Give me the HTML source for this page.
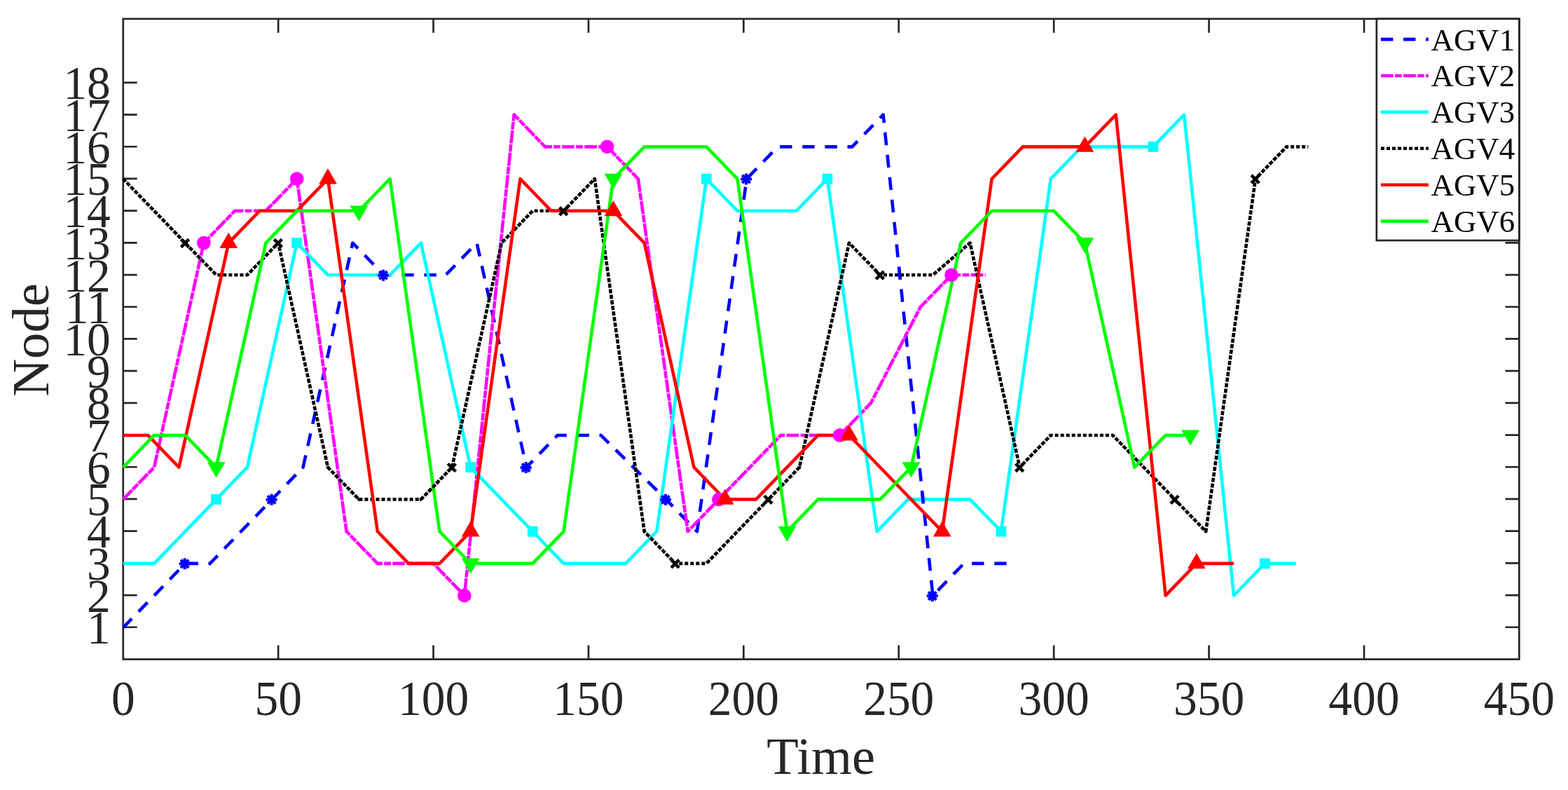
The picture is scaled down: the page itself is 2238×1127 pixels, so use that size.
<!DOCTYPE html>
<html lang="en"><head><meta charset="utf-8"><title>AGV node-time chart</title>
<style>
html,body{margin:0;padding:0;background:#fff;}
body{width:2238px;height:1127px;overflow:hidden;}
svg{display:block;}
text{font-family:"Liberation Serif","Times New Roman",serif;}
.xt{font-size:69.6px;fill:#262626;}
.yt{font-size:67.4px;fill:#262626;}
.lab{font-size:74.6px;fill:#262626;}
.leg{font-size:44.8px;fill:#000;}
.ln{fill:none;stroke-width:4.6;stroke-linejoin:round;stroke-linecap:butt;}
</style></head><body>
<svg xmlns="http://www.w3.org/2000/svg" width="2238" height="1127" viewBox="0 0 2238 1127">
<rect x="0" y="0" width="2238" height="1127" fill="#fff"/>
<defs>
<clipPath id="cp0"><rect x="1275.23" y="383.28" width="18" height="18"/></clipPath>
<clipPath id="cp1"><rect x="1308.29" y="703.42" width="18" height="18"/></clipPath>
<clipPath id="cp2"><rect x="609.41" y="685.28" width="18" height="18"/></clipPath>
</defs>
<g stroke="#262626" stroke-width="2.7" fill="none" stroke-linecap="butt">
<rect x="175.75" y="26.9" width="1992.6" height="913.6"/>
<path d="M397.15 940.5v-19.9M397.15 26.9v19.9M618.55 940.5v-19.9M618.55 26.9v19.9M839.95 940.5v-19.9M839.95 26.9v19.9M1061.35 940.5v-19.9M1061.35 26.9v19.9M1282.75 940.5v-19.9M1282.75 26.9v19.9M1504.15 940.5v-19.9M1504.15 26.9v19.9M1725.55 940.5v-19.9M1725.55 26.9v19.9M1946.95 940.5v-19.9M1946.95 26.9v19.9M175.75 894.75h19.9M2168.35 894.75h-19.9M175.75 849.05h19.9M2168.35 849.05h-19.9M175.75 803.35h19.9M2168.35 803.35h-19.9M175.75 757.65h19.9M2168.35 757.65h-19.9M175.75 711.95h19.9M2168.35 711.95h-19.9M175.75 666.25h19.9M2168.35 666.25h-19.9M175.75 620.55h19.9M2168.35 620.55h-19.9M175.75 574.85h19.9M2168.35 574.85h-19.9M175.75 529.15h19.9M2168.35 529.15h-19.9M175.75 483.45h19.9M2168.35 483.45h-19.9M175.75 437.75h19.9M2168.35 437.75h-19.9M175.75 392.05h19.9M2168.35 392.05h-19.9M175.75 346.35h19.9M2168.35 346.35h-19.9M175.75 300.65h19.9M2168.35 300.65h-19.9M175.75 254.95h19.9M2168.35 254.95h-19.9M175.75 209.25h19.9M2168.35 209.25h-19.9M175.75 163.55h19.9M2168.35 163.55h-19.9M175.75 117.85h19.9M2168.35 117.85h-19.9"/>
</g>
<g class="ln">
<g id="l1">
<line x1="175.75" y1="895.37" x2="264.31" y2="803.89" stroke="#0000ff" stroke-dasharray="18.4 13.72" stroke-dashoffset="0.5"/>
<line x1="264.31" y1="803.89" x2="299.73" y2="803.89" stroke="#0000ff" stroke-dasharray="17.4 14.72" stroke-dashoffset="30.96"/>
<circle cx="299.73" cy="803.89" r="2.3" fill="#0000ff" stroke="none"/>
<line x1="299.73" y1="803.89" x2="388.29" y2="712.42" stroke="#0000ff" stroke-dasharray="18.4 13.72" stroke-dashoffset="2.64"/>
<circle cx="388.29" cy="712.42" r="2.3" fill="#0000ff" stroke="none"/>
<line x1="388.29" y1="712.42" x2="432.57" y2="666.69" stroke="#0000ff" stroke-dasharray="18.4 13.72" stroke-dashoffset="1.48"/>
<circle cx="432.57" cy="666.69" r="2.3" fill="#0000ff" stroke="none"/>
<line x1="432.57" y1="666.69" x2="503.42" y2="346.55" stroke="#0000ff" stroke-dasharray="18.4 13.72" stroke-dashoffset="0.9"/>
<circle cx="503.42" cy="346.55" r="2.3" fill="#0000ff" stroke="none"/>
<line x1="503.42" y1="346.55" x2="547.7" y2="392.28" stroke="#0000ff" stroke-dasharray="18.4 13.72" stroke-dashoffset="7.59"/>
<circle cx="547.7" cy="392.28" r="2.3" fill="#0000ff" stroke="none"/>
<line x1="547.7" y1="392.28" x2="636.26" y2="392.28" stroke="#0000ff" stroke-dasharray="17.4 14.72" stroke-dashoffset="6.51"/>
<line x1="636.26" y1="392.28" x2="680.54" y2="346.55" stroke="#0000ff" stroke-dasharray="18.4 13.72" stroke-dashoffset="31.33"/>
<line x1="680.54" y1="346.55" x2="751.39" y2="666.69" stroke="#0000ff" stroke-dasharray="18.4 13.72" stroke-dashoffset="30.74"/>
<circle cx="751.39" cy="666.69" r="2.3" fill="#0000ff" stroke="none"/>
<line x1="751.39" y1="666.69" x2="795.67" y2="620.96" stroke="#0000ff" stroke-dasharray="18.4 13.72" stroke-dashoffset="5.31"/>
<circle cx="795.67" cy="620.96" r="2.3" fill="#0000ff" stroke="none"/>
<line x1="795.67" y1="620.96" x2="857.66" y2="620.96" stroke="#0000ff" stroke-dasharray="17.4 14.72" stroke-dashoffset="4.23"/>
<circle cx="857.66" cy="620.96" r="2.3" fill="#0000ff" stroke="none"/>
<line x1="857.66" y1="620.96" x2="950.65" y2="712.42" stroke="#0000ff" stroke-dasharray="18.4 13.72" stroke-dashoffset="2.49"/>
<circle cx="950.65" cy="712.42" r="2.3" fill="#0000ff" stroke="none"/>
<line x1="950.65" y1="712.42" x2="994.93" y2="758.16" stroke="#0000ff" stroke-dasharray="18.4 13.72" stroke-dashoffset="4.44"/>
<circle cx="994.93" cy="758.16" r="2.3" fill="#0000ff" stroke="none"/>
<line x1="994.93" y1="758.16" x2="1065.78" y2="255.08" stroke="#0000ff" stroke-dasharray="18.4 13.72" stroke-dashoffset="3.86"/>
<line x1="1065.78" y1="255.08" x2="1110.06" y2="209.34" stroke="#0000ff" stroke-dasharray="18.4 13.72" stroke-dashoffset="30.11"/>
<line x1="1110.06" y1="209.34" x2="1216.33" y2="209.34" stroke="#0000ff" stroke-dasharray="17.4 14.72" stroke-dashoffset="29.03"/>
<circle cx="1216.33" cy="209.34" r="2.3" fill="#0000ff" stroke="none"/>
<line x1="1216.33" y1="209.34" x2="1260.61" y2="163.61" stroke="#0000ff" stroke-dasharray="18.4 13.72" stroke-dashoffset="7.32"/>
<circle cx="1260.61" cy="163.61" r="2.3" fill="#0000ff" stroke="none"/>
<line x1="1260.61" y1="163.61" x2="1331.46" y2="849.63" stroke="#0000ff" stroke-dasharray="18.4 13.72" stroke-dashoffset="6.74"/>
<line x1="1331.46" y1="849.63" x2="1375.74" y2="803.89" stroke="#0000ff" stroke-dasharray="18.4 13.72" stroke-dashoffset="21.89"/>
<line x1="1375.74" y1="803.89" x2="1437.73" y2="803.89" stroke="#0000ff" stroke-dasharray="17.4 14.72" stroke-dashoffset="20.81"/>
</g>
<g id="l2">
<line x1="175.75" y1="712.42" x2="220.03" y2="666.69" stroke="#ff00ff" stroke-dasharray="18.8 1.26 10.8 1.26" stroke-dashoffset="0.5"/>
<line x1="220.03" y1="666.69" x2="290.88" y2="346.55" stroke="#ff00ff" stroke-dasharray="18.8 1.26 10.8 1.26" stroke-dashoffset="32.04"/>
<circle cx="290.88" cy="346.55" r="2.3" fill="#ff00ff" stroke="none"/>
<line x1="290.88" y1="346.55" x2="335.16" y2="300.81" stroke="#ff00ff" stroke-dasharray="18.8 1.26 10.8 1.26" stroke-dashoffset="6.61"/>
<circle cx="335.16" cy="300.81" r="2.3" fill="#ff00ff" stroke="none"/>
<line x1="335.16" y1="300.81" x2="379.44" y2="300.81" stroke="#ff00ff" stroke-dasharray="17.8 2.26 9.8 2.26" stroke-dashoffset="5.53"/>
<circle cx="379.44" cy="300.81" r="2.3" fill="#ff00ff" stroke="none"/>
<line x1="379.44" y1="300.81" x2="423.72" y2="255.08" stroke="#ff00ff" stroke-dasharray="18.8 1.26 10.8 1.26" stroke-dashoffset="18.19"/>
<circle cx="423.72" cy="255.08" r="2.3" fill="#ff00ff" stroke="none"/>
<line x1="423.72" y1="255.08" x2="494.57" y2="758.16" stroke="#ff00ff" stroke-dasharray="18.8 1.26 10.8 1.26" stroke-dashoffset="17.61"/>
<circle cx="494.57" cy="758.16" r="2.3" fill="#ff00ff" stroke="none"/>
<line x1="494.57" y1="758.16" x2="538.85" y2="803.89" stroke="#ff00ff" stroke-dasharray="18.8 1.26 10.8 1.26" stroke-dashoffset="11.74"/>
<circle cx="538.85" cy="803.89" r="2.3" fill="#ff00ff" stroke="none"/>
<line x1="538.85" y1="803.89" x2="618.55" y2="803.89" stroke="#ff00ff" stroke-dasharray="17.8 2.26 9.8 2.26" stroke-dashoffset="10.65"/>
<circle cx="618.55" cy="803.89" r="2.3" fill="#ff00ff" stroke="none"/>
<line x1="618.55" y1="803.89" x2="662.83" y2="849.63" stroke="#ff00ff" stroke-dasharray="18.8 1.26 10.8 1.26" stroke-dashoffset="26.62"/>
<circle cx="662.83" cy="849.63" r="2.3" fill="#ff00ff" stroke="none"/>
<line x1="662.83" y1="849.63" x2="733.68" y2="163.61" stroke="#ff00ff" stroke-dasharray="18.8 1.26 10.8 1.26" stroke-dashoffset="26.04"/>
<circle cx="733.68" cy="163.61" r="2.3" fill="#ff00ff" stroke="none"/>
<line x1="733.68" y1="163.61" x2="777.96" y2="209.34" stroke="#ff00ff" stroke-dasharray="18.8 1.26 10.8 1.26" stroke-dashoffset="9.07"/>
<circle cx="777.96" cy="209.34" r="2.3" fill="#ff00ff" stroke="none"/>
<line x1="777.96" y1="209.34" x2="866.52" y2="209.34" stroke="#ff00ff" stroke-dasharray="17.8 2.26 9.8 2.26" stroke-dashoffset="7.99"/>
<circle cx="866.52" cy="209.34" r="2.3" fill="#ff00ff" stroke="none"/>
<line x1="866.52" y1="209.34" x2="910.8" y2="255.08" stroke="#ff00ff" stroke-dasharray="18.8 1.26 10.8 1.26" stroke-dashoffset="0.69"/>
<circle cx="910.8" cy="255.08" r="2.3" fill="#ff00ff" stroke="none"/>
<line x1="910.8" y1="255.08" x2="981.65" y2="758.16" stroke="#ff00ff" stroke-dasharray="18.8 1.26 10.8 1.26" stroke-dashoffset="0.11"/>
<circle cx="981.65" cy="758.16" r="2.3" fill="#ff00ff" stroke="none"/>
<line x1="981.65" y1="758.16" x2="1025.93" y2="712.42" stroke="#ff00ff" stroke-dasharray="18.8 1.26 10.8 1.26" stroke-dashoffset="26.36"/>
<circle cx="1025.93" cy="712.42" r="2.3" fill="#ff00ff" stroke="none"/>
<line x1="1025.93" y1="712.42" x2="1114.49" y2="620.96" stroke="#ff00ff" stroke-dasharray="18.8 1.26 10.8 1.26" stroke-dashoffset="25.77"/>
<circle cx="1114.49" cy="620.96" r="2.3" fill="#ff00ff" stroke="none"/>
<line x1="1114.49" y1="620.96" x2="1198.62" y2="620.96" stroke="#ff00ff" stroke-dasharray="17.8 2.26 9.8 2.26" stroke-dashoffset="24.11"/>
<circle cx="1198.62" cy="620.96" r="2.3" fill="#ff00ff" stroke="none"/>
<line x1="1198.62" y1="620.96" x2="1242.9" y2="575.22" stroke="#ff00ff" stroke-dasharray="18.8 1.26 10.8 1.26" stroke-dashoffset="12.38"/>
<circle cx="1242.9" cy="575.22" r="2.3" fill="#ff00ff" stroke="none"/>
<line x1="1242.9" y1="575.22" x2="1313.75" y2="438.02" stroke="#ff00ff" stroke-dasharray="18.8 1.26 10.8 1.26" stroke-dashoffset="11.8"/>
<circle cx="1313.75" cy="438.02" r="2.3" fill="#ff00ff" stroke="none"/>
<line x1="1313.75" y1="438.02" x2="1358.03" y2="392.28" stroke="#ff00ff" stroke-dasharray="18.8 1.26 10.8 1.26" stroke-dashoffset="5.62"/>
<circle cx="1358.03" cy="392.28" r="2.3" fill="#ff00ff" stroke="none"/>
<line x1="1358.03" y1="392.28" x2="1406.73" y2="392.28" stroke="#ff00ff" stroke-dasharray="17.8 2.26 9.8 2.26" stroke-dashoffset="4.54"/>
</g>
<g id="l3">
<polyline points="175.75,803.89 220.03,803.89 308.59,712.42 352.87,666.69 423.72,346.55 468,392.28 556.56,392.28 600.84,346.55 671.69,666.69 760.25,758.16 804.53,803.89 893.09,803.89 937.37,758.16 1008.21,255.08 1052.49,300.81 1136.63,300.81 1180.91,255.08 1251.75,758.16 1296.03,712.42 1384.59,712.42 1428.87,758.16 1499.72,255.08 1544,209.34 1645.85,209.34 1690.13,163.61 1760.97,849.63 1805.25,803.89 1849.53,803.89" stroke="#00ffff"/>
</g>
<g id="l4">
<line x1="175.75" y1="255.08" x2="264.31" y2="346.55" stroke="#000000" stroke-dasharray="6 2.03" stroke-dashoffset="0.5"/>
<line x1="264.31" y1="346.55" x2="308.59" y2="392.28" stroke="#000000" stroke-dasharray="6 2.03" stroke-dashoffset="7.37"/>
<line x1="308.59" y1="392.28" x2="352.87" y2="392.28" stroke="#000000" stroke-dasharray="5 3.03" stroke-dashoffset="6.29"/>
<circle cx="352.87" cy="392.28" r="2.3" fill="#000000" stroke="none"/>
<line x1="352.87" y1="392.28" x2="397.15" y2="346.55" stroke="#000000" stroke-dasharray="6 2.03" stroke-dashoffset="2.89"/>
<circle cx="397.15" cy="346.55" r="2.3" fill="#000000" stroke="none"/>
<line x1="397.15" y1="346.55" x2="468" y2="666.69" stroke="#000000" stroke-dasharray="6 2.03" stroke-dashoffset="2.3"/>
<circle cx="468" cy="666.69" r="2.3" fill="#000000" stroke="none"/>
<line x1="468" y1="666.69" x2="512.28" y2="712.42" stroke="#000000" stroke-dasharray="6 2.03" stroke-dashoffset="0.96"/>
<circle cx="512.28" cy="712.42" r="2.3" fill="#000000" stroke="none"/>
<line x1="512.28" y1="712.42" x2="600.84" y2="712.42" stroke="#000000" stroke-dasharray="5 3.03" stroke-dashoffset="7.91"/>
<circle cx="600.84" cy="712.42" r="2.3" fill="#000000" stroke="none"/>
<line x1="600.84" y1="712.42" x2="645.12" y2="666.69" stroke="#000000" stroke-dasharray="6 2.03" stroke-dashoffset="0.61"/>
<circle cx="645.12" cy="666.69" r="2.3" fill="#000000" stroke="none"/>
<line x1="645.12" y1="666.69" x2="715.97" y2="346.55" stroke="#000000" stroke-dasharray="6 2.03" stroke-dashoffset="0.03"/>
<line x1="715.97" y1="346.55" x2="760.25" y2="300.81" stroke="#000000" stroke-dasharray="6 2.03" stroke-dashoffset="6.72"/>
<line x1="760.25" y1="300.81" x2="804.53" y2="300.81" stroke="#000000" stroke-dasharray="5 3.03" stroke-dashoffset="5.64"/>
<circle cx="804.53" cy="300.81" r="2.3" fill="#000000" stroke="none"/>
<line x1="804.53" y1="300.81" x2="848.81" y2="255.08" stroke="#000000" stroke-dasharray="6 2.03" stroke-dashoffset="2.24"/>
<circle cx="848.81" cy="255.08" r="2.3" fill="#000000" stroke="none"/>
<line x1="848.81" y1="255.08" x2="919.65" y2="758.16" stroke="#000000" stroke-dasharray="6 2.03" stroke-dashoffset="1.66"/>
<circle cx="919.65" cy="758.16" r="2.3" fill="#000000" stroke="none"/>
<line x1="919.65" y1="758.16" x2="963.93" y2="803.89" stroke="#000000" stroke-dasharray="6 2.03" stroke-dashoffset="3.82"/>
<circle cx="963.93" cy="803.89" r="2.3" fill="#000000" stroke="none"/>
<line x1="963.93" y1="803.89" x2="1008.21" y2="803.89" stroke="#000000" stroke-dasharray="5 3.03" stroke-dashoffset="2.74"/>
<line x1="1008.21" y1="803.89" x2="1096.77" y2="712.42" stroke="#000000" stroke-dasharray="6 2.03" stroke-dashoffset="7.37"/>
<line x1="1096.77" y1="712.42" x2="1141.05" y2="666.69" stroke="#000000" stroke-dasharray="6 2.03" stroke-dashoffset="6.2"/>
<circle cx="1141.05" cy="666.69" r="2.3" fill="#000000" stroke="none"/>
<line x1="1141.05" y1="666.69" x2="1211.9" y2="346.55" stroke="#000000" stroke-dasharray="6 2.03" stroke-dashoffset="5.62"/>
<circle cx="1211.9" cy="346.55" r="2.3" fill="#000000" stroke="none"/>
<line x1="1211.9" y1="346.55" x2="1256.18" y2="392.28" stroke="#000000" stroke-dasharray="6 2.03" stroke-dashoffset="4.28"/>
<circle cx="1256.18" cy="392.28" r="2.3" fill="#000000" stroke="none"/>
<line x1="1256.18" y1="392.28" x2="1331.46" y2="392.28" stroke="#000000" stroke-dasharray="5 3.03" stroke-dashoffset="3.2"/>
<line x1="1331.46" y1="392.28" x2="1384.59" y2="346.55" stroke="#000000" stroke-dasharray="6 2.03" stroke-dashoffset="6.71"/>
<circle cx="1384.59" cy="346.55" r="2.3" fill="#000000" stroke="none"/>
<line x1="1384.59" y1="346.55" x2="1455.44" y2="666.69" stroke="#000000" stroke-dasharray="6 2.03" stroke-dashoffset="4.55"/>
<circle cx="1455.44" cy="666.69" r="2.3" fill="#000000" stroke="none"/>
<line x1="1455.44" y1="666.69" x2="1499.72" y2="620.96" stroke="#000000" stroke-dasharray="6 2.03" stroke-dashoffset="3.21"/>
<circle cx="1499.72" cy="620.96" r="2.3" fill="#000000" stroke="none"/>
<line x1="1499.72" y1="620.96" x2="1588.28" y2="620.96" stroke="#000000" stroke-dasharray="5 3.03" stroke-dashoffset="2.13"/>
<circle cx="1588.28" cy="620.96" r="2.3" fill="#000000" stroke="none"/>
<line x1="1588.28" y1="620.96" x2="1676.84" y2="712.42" stroke="#000000" stroke-dasharray="6 2.03" stroke-dashoffset="2.86"/>
<circle cx="1676.84" cy="712.42" r="2.3" fill="#000000" stroke="none"/>
<line x1="1676.84" y1="712.42" x2="1721.12" y2="758.16" stroke="#000000" stroke-dasharray="6 2.03" stroke-dashoffset="1.69"/>
<circle cx="1721.12" cy="758.16" r="2.3" fill="#000000" stroke="none"/>
<line x1="1721.12" y1="758.16" x2="1791.97" y2="255.08" stroke="#000000" stroke-dasharray="6 2.03" stroke-dashoffset="1.11"/>
<circle cx="1791.97" cy="255.08" r="2.3" fill="#000000" stroke="none"/>
<line x1="1791.97" y1="255.08" x2="1836.25" y2="209.34" stroke="#000000" stroke-dasharray="6 2.03" stroke-dashoffset="3.27"/>
<circle cx="1836.25" cy="209.34" r="2.3" fill="#000000" stroke="none"/>
<line x1="1836.25" y1="209.34" x2="1867.25" y2="209.34" stroke="#000000" stroke-dasharray="5 3.03" stroke-dashoffset="2.19"/>
</g>
<g id="l5">
<polyline points="175.75,620.96 211.17,620.96 255.45,666.69 326.3,346.55 370.58,300.81 423.72,300.81 468,255.08 538.85,758.16 583.13,803.89 627.41,803.89 671.69,758.16 742.53,255.08 786.81,300.81 875.37,300.81 919.65,346.55 990.5,666.69 1034.78,712.42 1079.06,712.42 1167.62,620.96 1211.9,620.96 1344.74,758.16 1415.59,255.08 1459.87,209.34 1548.43,209.34 1592.71,163.61 1663.56,849.63 1707.84,803.89 1760.97,803.89" stroke="#ff0000"/>
</g>
<g id="l6">
<polyline points="175.75,666.69 220.03,620.96 264.31,620.96 308.59,666.69 379.44,346.55 423.72,300.81 512.28,300.81 556.56,255.08 627.41,758.16 671.69,803.89 760.25,803.89 804.53,758.16 875.37,255.08 919.65,209.34 1008.21,209.34 1052.49,255.08 1123.34,758.16 1167.62,712.42 1256.18,712.42 1300.46,666.69 1371.31,346.55 1415.59,300.81 1504.15,300.81 1548.43,346.55 1619.28,666.69 1663.56,620.96 1698.98,620.96" stroke="#00ff00"/>
</g>
<use href="#l1" clip-path="url(#cp0)"/>
<use href="#l1" clip-path="url(#cp1)"/>
<use href="#l4" clip-path="url(#cp2)"/>
</g>
<g>
<path d="M255.61 804.29H271.61M263.61 796.29V812.29M257.95 798.64L269.27 809.95M257.95 809.95L269.27 798.64" stroke="#0000ff" stroke-width="4.1" fill="none"/>
<path d="M379.59 712.82H395.59M387.59 704.82V720.82M381.94 707.17L393.25 718.48M381.94 718.48L393.25 707.17" stroke="#0000ff" stroke-width="4.1" fill="none"/>
<path d="M539 392.68H555M547 384.68V400.68M541.35 387.02L552.66 398.34M541.35 398.34L552.66 387.02" stroke="#0000ff" stroke-width="4.1" fill="none"/>
<path d="M742.69 667.09H758.69M750.69 659.09V675.09M745.03 661.43L756.35 672.75M745.03 672.75L756.35 661.43" stroke="#0000ff" stroke-width="4.1" fill="none"/>
<path d="M941.95 712.82H957.95M949.95 704.82V720.82M944.29 707.17L955.61 718.48M944.29 718.48L955.61 707.17" stroke="#0000ff" stroke-width="4.1" fill="none"/>
<path d="M1057.08 255.48H1073.08M1065.08 247.48V263.48M1059.42 249.82L1070.73 261.13M1059.42 261.13L1070.73 249.82" stroke="#0000ff" stroke-width="4.1" fill="none"/>
<path d="M1322.76 850.03H1338.76M1330.76 842.03V858.03M1325.1 844.37L1336.41 855.69M1325.1 855.69L1336.41 844.37" stroke="#0000ff" stroke-width="4.1" fill="none"/>
<circle cx="290.88" cy="346.55" r="9.85" fill="#ff00ff"/>
<circle cx="423.72" cy="255.08" r="9.85" fill="#ff00ff"/>
<circle cx="662.83" cy="849.63" r="9.85" fill="#ff00ff"/>
<circle cx="866.52" cy="209.34" r="9.85" fill="#ff00ff"/>
<circle cx="1025.93" cy="712.42" r="9.85" fill="#ff00ff"/>
<circle cx="1198.62" cy="620.96" r="9.85" fill="#ff00ff"/>
<circle cx="1358.03" cy="392.28" r="9.85" fill="#ff00ff"/>
<rect x="301.19" y="705.02" width="14.8" height="14.8" fill="#00ffff"/>
<rect x="416.32" y="339.15" width="14.8" height="14.8" fill="#00ffff"/>
<rect x="664.29" y="659.29" width="14.8" height="14.8" fill="#00ffff"/>
<rect x="752.85" y="750.76" width="14.8" height="14.8" fill="#00ffff"/>
<rect x="1000.81" y="247.68" width="14.8" height="14.8" fill="#00ffff"/>
<rect x="1173.51" y="247.68" width="14.8" height="14.8" fill="#00ffff"/>
<rect x="1421.47" y="750.76" width="14.8" height="14.8" fill="#00ffff"/>
<rect x="1638.45" y="201.94" width="14.8" height="14.8" fill="#00ffff"/>
<rect x="1797.85" y="796.5" width="14.8" height="14.8" fill="#00ffff"/>
<path d="M258.41 341.35L269.61 352.55M258.41 352.55L269.61 341.35" stroke="#000000" stroke-width="4.5" fill="none"/>
<path d="M391.25 341.35L402.45 352.55M391.25 352.55L402.45 341.35" stroke="#000000" stroke-width="4.5" fill="none"/>
<path d="M639.22 661.49L650.42 672.69M639.22 672.69L650.42 661.49" stroke="#000000" stroke-width="4.5" fill="none"/>
<path d="M798.63 295.61L809.83 306.81M798.63 306.81L809.83 295.61" stroke="#000000" stroke-width="4.5" fill="none"/>
<path d="M958.03 798.69L969.23 809.89M958.03 809.89L969.23 798.69" stroke="#000000" stroke-width="4.5" fill="none"/>
<path d="M1090.87 707.22L1102.07 718.42M1090.87 718.42L1102.07 707.22" stroke="#000000" stroke-width="4.5" fill="none"/>
<path d="M1250.28 387.08L1261.48 398.28M1250.28 398.28L1261.48 387.08" stroke="#000000" stroke-width="4.5" fill="none"/>
<path d="M1449.54 661.49L1460.74 672.69M1449.54 672.69L1460.74 661.49" stroke="#000000" stroke-width="4.5" fill="none"/>
<path d="M1670.94 707.22L1682.14 718.42M1670.94 718.42L1682.14 707.22" stroke="#000000" stroke-width="4.5" fill="none"/>
<path d="M1786.07 249.88L1797.27 261.08M1786.07 261.08L1797.27 249.88" stroke="#000000" stroke-width="4.5" fill="none"/>
<polygon points="326.3,331.68 339.2,353.98 313.4,353.98" fill="#ff0000"/>
<polygon points="468,240.21 480.9,262.51 455.1,262.51" fill="#ff0000"/>
<polygon points="671.69,743.29 684.59,765.59 658.79,765.59" fill="#ff0000"/>
<polygon points="875.37,285.94 888.27,308.24 862.47,308.24" fill="#ff0000"/>
<polygon points="1034.78,697.56 1047.68,719.86 1021.88,719.86" fill="#ff0000"/>
<polygon points="1211.9,606.09 1224.8,628.39 1199,628.39" fill="#ff0000"/>
<polygon points="1344.74,743.29 1357.64,765.59 1331.84,765.59" fill="#ff0000"/>
<polygon points="1548.43,194.47 1561.33,216.77 1535.53,216.77" fill="#ff0000"/>
<polygon points="1707.84,789.03 1720.74,811.33 1694.94,811.33" fill="#ff0000"/>
<polygon points="308.59,681.56 321.49,659.26 295.69,659.26" fill="#00ff00"/>
<polygon points="512.28,315.68 525.18,293.38 499.38,293.38" fill="#00ff00"/>
<polygon points="671.69,818.76 684.59,796.46 658.79,796.46" fill="#00ff00"/>
<polygon points="875.37,269.94 888.27,247.64 862.47,247.64" fill="#00ff00"/>
<polygon points="1123.34,773.03 1136.24,750.73 1110.44,750.73" fill="#00ff00"/>
<polygon points="1300.46,681.56 1313.36,659.26 1287.56,659.26" fill="#00ff00"/>
<polygon points="1548.43,361.41 1561.33,339.11 1535.53,339.11" fill="#00ff00"/>
<polygon points="1698.98,635.82 1711.88,613.52 1686.08,613.52" fill="#00ff00"/>
</g>
<g>
<text class="xt" text-anchor="middle" transform="translate(175.75 1020.4) scale(0.969 1)">0</text>
<text class="xt" text-anchor="middle" transform="translate(397.15 1020.4) scale(0.969 1)">50</text>
<text class="xt" text-anchor="middle" transform="translate(618.55 1020.4) scale(0.969 1)">100</text>
<text class="xt" text-anchor="middle" transform="translate(839.95 1020.4) scale(0.969 1)">150</text>
<text class="xt" text-anchor="middle" transform="translate(1061.35 1020.4) scale(0.969 1)">200</text>
<text class="xt" text-anchor="middle" transform="translate(1282.75 1020.4) scale(0.969 1)">250</text>
<text class="xt" text-anchor="middle" transform="translate(1504.15 1020.4) scale(0.969 1)">300</text>
<text class="xt" text-anchor="middle" transform="translate(1725.55 1020.4) scale(0.969 1)">350</text>
<text class="xt" text-anchor="middle" transform="translate(1946.95 1020.4) scale(0.969 1)">400</text>
<text class="xt" text-anchor="middle" transform="translate(2168.35 1020.4) scale(0.969 1)">450</text>
<text class="yt" text-anchor="end" transform="translate(157.8 918.25)">1</text>
<text class="yt" text-anchor="end" transform="translate(157.8 872.55)">2</text>
<text class="yt" text-anchor="end" transform="translate(157.8 826.85)">3</text>
<text class="yt" text-anchor="end" transform="translate(157.8 781.15)">4</text>
<text class="yt" text-anchor="end" transform="translate(157.8 735.45)">5</text>
<text class="yt" text-anchor="end" transform="translate(157.8 689.75)">6</text>
<text class="yt" text-anchor="end" transform="translate(157.8 644.05)">7</text>
<text class="yt" text-anchor="end" transform="translate(157.8 598.35)">8</text>
<text class="yt" text-anchor="end" transform="translate(157.8 552.65)">9</text>
<text class="yt" text-anchor="end" transform="translate(157.8 506.95)">10</text>
<text class="yt" text-anchor="end" transform="translate(157.8 461.25)">11</text>
<text class="yt" text-anchor="end" transform="translate(157.8 415.55)">12</text>
<text class="yt" text-anchor="end" transform="translate(157.8 369.85)">13</text>
<text class="yt" text-anchor="end" transform="translate(157.8 324.15)">14</text>
<text class="yt" text-anchor="end" transform="translate(157.8 278.45)">15</text>
<text class="yt" text-anchor="end" transform="translate(157.8 232.75)">16</text>
<text class="yt" text-anchor="end" transform="translate(157.8 187.05)">17</text>
<text class="yt" text-anchor="end" transform="translate(157.8 141.35)">18</text>
</g>
<text class="lab" text-anchor="middle" transform="translate(1171.6 1104.1)">Time</text>
<text class="lab" text-anchor="middle" transform="translate(69.4 485) rotate(-90)">Node</text>
<rect x="1964.8" y="26.9" width="203.55" height="316.1" fill="#fff" stroke="#262626" stroke-width="2.7"/>
<g class="ln">
<line x1="1970.9" y1="56.1" x2="2038.9" y2="56.1" stroke="#0000ff" stroke-dasharray="17.4 14.72"/>
<line x1="1970.9" y1="108" x2="2038.9" y2="108" stroke="#ff00ff" stroke-dasharray="17.8 2.26 9.8 2.26"/>
<line x1="1970.9" y1="159.9" x2="2038.9" y2="159.9" stroke="#00ffff"/>
<line x1="1970.9" y1="211.8" x2="2038.9" y2="211.8" stroke="#000000" stroke-dasharray="5 3.03"/>
<line x1="1970.9" y1="263.7" x2="2038.9" y2="263.7" stroke="#ff0000"/>
<line x1="1970.9" y1="315.6" x2="2038.9" y2="315.6" stroke="#00ff00"/>
</g>
<g>
<text class="leg" transform="translate(2042.6 71.5)">AGV1</text>
<text class="leg" transform="translate(2042.6 123.45)">AGV2</text>
<text class="leg" transform="translate(2042.6 175.4)">AGV3</text>
<text class="leg" transform="translate(2042.6 227.35)">AGV4</text>
<text class="leg" transform="translate(2042.6 279.3)">AGV5</text>
<text class="leg" transform="translate(2042.6 331.25)">AGV6</text>
</g>
</svg>
</body></html>
